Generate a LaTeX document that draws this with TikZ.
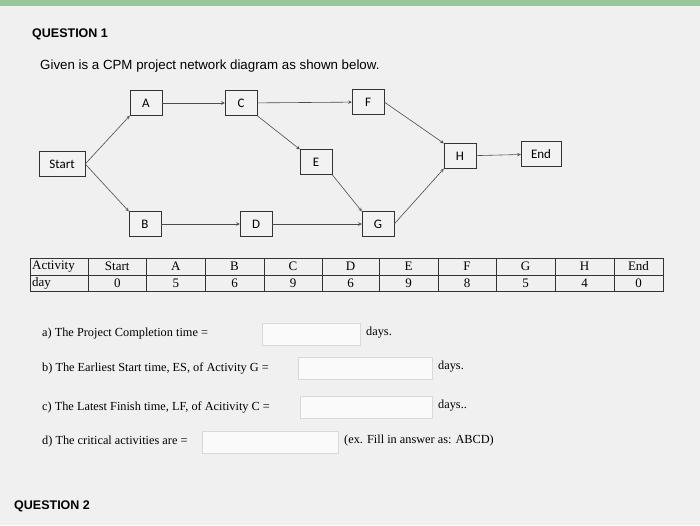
\documentclass[tikz,border=0pt]{standalone}
\usepackage{fontspec}
\setmainfont{Liberation Serif}
\newfontfamily\hdfont{Liberation Sans}
\newfontfamily\calfont{Carlito}
\begin{document}
\begin{tikzpicture}[x=1pt,y=-1pt,
  act/.style={draw=black!80,fill=white!90!gray,minimum width=32pt,minimum height=25pt,inner sep=1pt,font=\calfont\fontsize{13}{14}\selectfont},
  arr/.style={draw=black!70,->,>=stealth,line width=0.6pt},
  qt/.style={anchor=west,font=\fontsize{12.3}{14}\selectfont,inner sep=0},
  ans/.style={draw=black!15,fill=white!60!gray!10},
  cell/.style={font=\fontsize{13}{14}\selectfont}]
\fill[gray!12] (0,0) rectangle (700,525);
\fill[black!55!green!40] (0,0) rectangle (700,6);
\useasboundingbox (0,0) rectangle (700,525);
\node[anchor=west,font=\hdfont\bfseries\fontsize{12.5}{14}\selectfont,inner sep=0] (q1) at (32,34) {QUESTION 1};
\node[anchor=west,font=\hdfont\fontsize{13.3}{15}\selectfont,inner sep=0] (intro) at (40,66) {Given is a CPM project network diagram as shown below.};
\node[act] (A) at (146,103) {A};
\node[act] (C) at (241,103) {C};
\node[act] (F) at (368,102) {F};
\node[act,minimum width=46pt] (S) at (62,164) {Start};
\node[act] (E) at (316,162) {E};
\node[act] (H) at (460,156) {H};
\node[act,minimum width=40pt] (End) at (541,154) {End};
\node[act] (B) at (145,224) {B};
\node[act] (D) at (256,224) {D};
\node[act] (G) at (378,224) {G};
\draw[arr] (S.east) -- (A.south west);
\draw[arr] (S.east) -- (B.north west);
\draw[arr] (A) -- (C);
\draw[arr] (C) -- (F);
\draw[arr] (C.south east) -- (E.north west);
\draw[arr] (B) -- (D);
\draw[arr] (D) -- (G);
\draw[arr] (E.south east) -- (G.north west);
\draw[arr] (F.east) -- (H.north west);
\draw[arr] (G.east) -- (H.south west);
\draw[arr] (H) -- (End);
% table
\draw[black!80,line width=0.6pt] (30,258) rectangle (663,291);
\draw[black!80] (30,275) -- (663,275);
\foreach \x in {88,146.5,205,264,322,379,438,496,555,614} \draw[black!80] (\x,258) -- (\x,291);
\node[cell,anchor=west,inner sep=1pt] (t0) at (31,266.5) {Activity};
\node[cell,anchor=west,inner sep=1pt] (t1) at (31,283) {day};
\foreach \l/\v/\a/\b in {Start/0/88/146.5,A/5/146.5/205,B/6/205/264,C/9/264/322,D/6/322/379,E/9/379/438,F/8/438/496,G/5/496/555,H/4/555/614,End/0/614/663}{
  \node[cell] at ({(\a+\b)/2},266.5) {\l};
  \node[cell] at ({(\a+\b)/2},283) {\v};}
% questions
\node[qt] (qa) at (42,334) {a) The Project Completion time =};
\draw[ans] (262,323) rectangle (360,345);
\node[qt] (da) at (366,333) {days.};
\node[qt] (qb) at (42,368) {b) The Earliest Start time, ES, of Activity G =};
\draw[ans] (298,357) rectangle (432,379);
\node[qt] (db) at (438,367) {days.};
\node[qt] (qc) at (42,407) {c) The Latest Finish time, LF, of Acitivity C =};
\draw[ans] (300,396) rectangle (432,418);
\node[qt] (dc) at (438,406) {days..};
\node[qt] (qd) at (42,442) {d) The critical activities are =};
\draw[ans] (202,431) rectangle (338,453);
\node[qt] (dd) at (344,441) {(ex. Fill in answer as: ABCD)};
\node[anchor=west,font=\hdfont\bfseries\fontsize{12.5}{14}\selectfont,inner sep=0] (q2) at (14,506) {QUESTION 2};
\end{tikzpicture}
\end{document}
